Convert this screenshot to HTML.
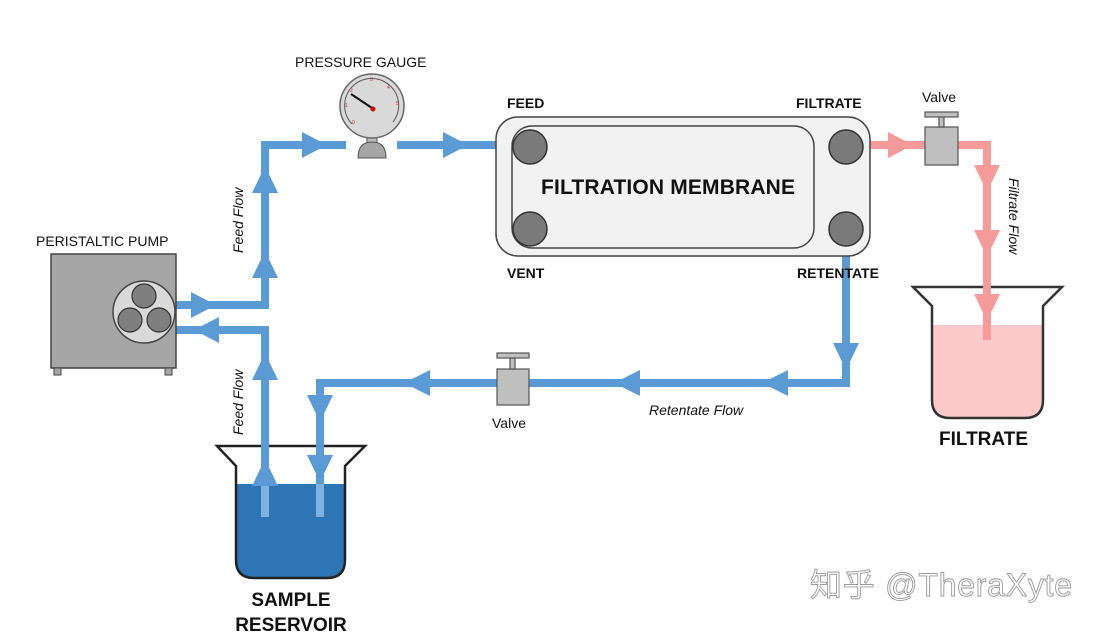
<!DOCTYPE html>
<html><head><meta charset="utf-8"><style>
html,body{margin:0;padding:0;background:#fff;}
svg{display:block;font-family:"Liberation Sans",Arial,sans-serif;}
</style></head><body>
<svg width="1100" height="635" viewBox="0 0 1100 635" xmlns="http://www.w3.org/2000/svg">
<!-- Sample beaker -->
<path d="M236 484 L345 484 L345 560 Q345 578 327 578 L254 578 Q236 578 236 560 Z" fill="#2e75b6"/>
<path d="M217 446 L365 446 L345 466 L345 560 Q345 578 327 578 L254 578 Q236 578 236 560 L236 466 Z" fill="none" stroke="#222" stroke-width="2.5"/>
<!-- Filtrate beaker -->
<path d="M932 325 L1043 325 L1043 400 Q1043 418 1025 418 L950 418 Q932 418 932 400 Z" fill="#fbc9c9"/>
<path d="M913 287 L1062 287 L1043 306 L1043 400 Q1043 418 1025 418 L950 418 Q932 418 932 400 L932 306 Z" fill="none" stroke="#333" stroke-width="2.5"/>

<g fill="none" stroke="#5b9bd5" stroke-width="8">
<path d="M176 305 H265 V145 H346"/>
<path d="M397 145 H515"/>
<path d="M176 330 H265 V484"/>
<path d="M846 256 V383 H320 V484"/>
</g>
<g fill="none" stroke="#7fb2e0" stroke-width="8">
<path d="M265 484 V517"/><path d="M320 484 V517"/>
</g>
<g fill="none" stroke="#f79a9a" stroke-width="8">
<path d="M866 145 H925"/><path d="M958 145 H987 V340"/>
</g>
<!-- blue arrows -->
<g fill="#5b9bd5">
<path d="M191 292 L216 305 L191 318Z"/>
<path d="M219 317 L194 330 L219 343Z"/>
<path d="M252 193 L265 166 L278 193Z"/>
<path d="M252 278 L265 251 L278 278Z"/>
<path d="M252 380 L265 353 L278 380Z"/>
<path d="M252 486 L265 459 L278 486Z"/>
<path d="M302 132 L327 145 L302 158Z"/>
<path d="M443 132 L468 145 L443 158Z"/>
<path d="M833 343 L846 370 L859 343Z"/>
<path d="M788 370 L762 383 L788 396Z"/>
<path d="M640 370 L614 383 L640 396Z"/>
<path d="M430 370 L404 383 L430 396Z"/>
<path d="M307 395 L320 422 L333 395Z"/>
<path d="M307 455 L320 482 L333 455Z"/>
</g>
<g fill="#f79a9a">
<path d="M888 132 L913 145 L888 158Z"/>
<path d="M974 165 L987 192 L1000 165Z"/>
<path d="M974 230 L987 257 L1000 230Z"/>
<path d="M974 294 L987 321 L1000 294Z"/>
</g>
<!-- Pump -->
<rect x="51" y="254" width="125" height="114" fill="#a6a6a6" stroke="#444" stroke-width="1.5"/>
<rect x="54" y="368" width="7" height="7" fill="#a6a6a6" stroke="#444"/>
<rect x="165" y="368" width="7" height="7" fill="#a6a6a6" stroke="#444"/>
<circle cx="144" cy="312" r="31" fill="#d9d9d9" stroke="#444" stroke-width="1.5"/>
<g fill="#7f7f7f" stroke="#333" stroke-width="1.2">
<circle cx="144" cy="296" r="12"/><circle cx="130" cy="320" r="12"/><circle cx="159" cy="320" r="12"/>
</g>
<!-- Gauge -->
<rect x="367" y="137" width="10" height="6" fill="#bbb" stroke="#555"/>
<path d="M358 158 Q358 142 372 142 Q386 142 386 158Z" fill="#a6a6a6" stroke="#555"/>
<circle cx="372" cy="106" r="32" fill="#d9d9d9" stroke="#666" stroke-width="1.5"/>
<path d="M352 124 A27 27 0 1 1 393 122" fill="none" stroke="#555" stroke-width="1"/>
<line x1="351" y1="94" x2="375" y2="110" stroke="#111" stroke-width="2"/>
<circle cx="373" cy="109" r="2.5" fill="#c00"/>
<g font-size="5" fill="#c33"><text x="352" y="124">0</text><text x="345" y="107">1</text><text x="350" y="92">2</text><text x="370" y="81">3</text><text x="387" y="89">4</text><text x="396" y="105">5</text></g>
<!-- Membrane -->
<rect x="496" y="117" width="374" height="139" rx="22" fill="#f2f2f2" stroke="#444" stroke-width="1.5"/>
<rect x="512" y="126" width="302" height="122" rx="20" fill="#f2f2f2" stroke="#444" stroke-width="1.5"/>
<g fill="#7a7a7a" stroke="#333" stroke-width="1.5">
<circle cx="530" cy="147" r="17"/><circle cx="530" cy="229" r="17"/><circle cx="846" cy="147" r="17"/><circle cx="846" cy="229" r="17"/>
</g>
<!-- Valves -->
<g fill="#bfbfbf" stroke="#555" stroke-width="1.2">
<rect x="925" y="127" width="33" height="38"/><rect x="939" y="116" width="5" height="11"/><rect x="925" y="112" width="33" height="5"/>
<rect x="497" y="369" width="32" height="36"/><rect x="510" y="358" width="5" height="11"/><rect x="497" y="353" width="32" height="5"/>
</g>
<!-- Texts -->
<g fill="#111">
<text x="295" y="67" font-size="14">PRESSURE GAUGE</text>
<text x="36" y="246" font-size="14">PERISTALTIC PUMP</text>
<text x="507" y="108" font-size="14" font-weight="bold">FEED</text>
<text x="507" y="278" font-size="14" font-weight="bold">VENT</text>
<text x="796" y="108" font-size="14" font-weight="bold">FILTRATE</text>
<text x="797" y="278" font-size="14" font-weight="bold">RETENTATE</text>
<text x="541" y="194" font-size="21" font-weight="bold" textLength="254">FILTRATION MEMBRANE</text>
<text x="922" y="102" font-size="14">Valve</text>
<text x="492" y="428" font-size="14">Valve</text>
<text x="649" y="415" font-size="14" font-style="italic">Retentate Flow</text>
<text x="939" y="445" font-size="19" font-weight="bold">FILTRATE</text>
<text x="291" y="606" font-size="19" font-weight="bold" text-anchor="middle">SAMPLE</text>
<text x="291" y="631" font-size="19" font-weight="bold" text-anchor="middle">RESERVOIR</text>
<text transform="translate(243,253) rotate(-90)" font-size="14" font-style="italic">Feed Flow</text>
<text transform="translate(243,435) rotate(-90)" font-size="14" font-style="italic">Feed Flow</text>
<text transform="translate(1009,178) rotate(90)" font-size="14" font-style="italic">Filtrate Flow</text>
</g>
<text x="810" y="596" font-size="32" fill="#fff" stroke="#999" stroke-width="0.9" textLength="262" font-family="'Liberation Sans','Noto Sans CJK SC',sans-serif">知乎 @TheraXyte</text>
</svg>
</body></html>
